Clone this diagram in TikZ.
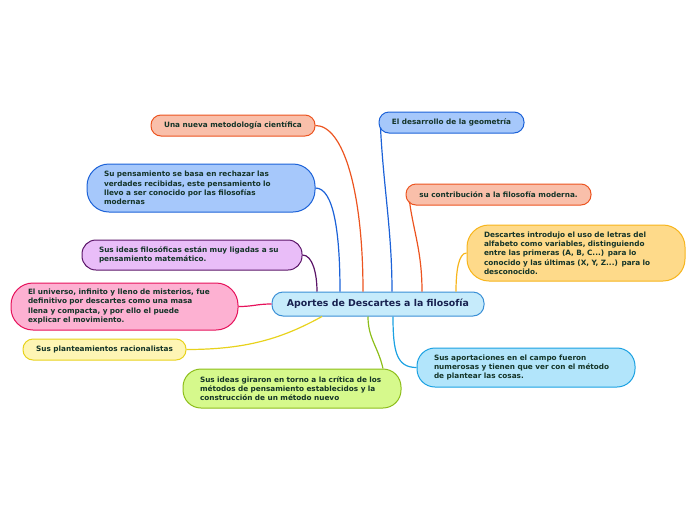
\documentclass[tikz,border=0pt]{standalone}
\usepackage{fontspec}
\setmainfont{DejaVu Sans}
\definecolor{txt}{RGB}{20,52,40}
\definecolor{ctxt}{RGB}{24,34,80}
\definecolor{orF}{RGB}{249,191,170}\definecolor{orD}{RGB}{236,84,32}
\definecolor{blF}{RGB}{166,200,251}\definecolor{blD}{RGB}{28,98,216}
\definecolor{puF}{RGB}{233,189,248}\definecolor{puD}{RGB}{91,21,104}
\definecolor{piF}{RGB}{253,177,210}\definecolor{piD}{RGB}{230,18,91}
\definecolor{yeF}{RGB}{254,245,180}\definecolor{yeD}{RGB}{232,210,28}
\definecolor{grF}{RGB}{214,249,140}\definecolor{grD}{RGB}{141,190,26}
\definecolor{goF}{RGB}{254,218,138}\definecolor{goD}{RGB}{247,181,28}
\definecolor{lbF}{RGB}{178,229,251}\definecolor{lbD}{RGB}{27,161,226}
\definecolor{ceF}{RGB}{198,235,251}\definecolor{ceD}{RGB}{58,143,214}
\tikzset{
  x=1pt,y=-1pt,
  box/.style={draw, line width=1pt, inner ysep=2pt, text=txt,
    font=\fontsize{7.3}{9.3}\selectfont\bfseries},
  single/.style={box, rounded corners=10pt, minimum height=21pt, align=center},
  multi/.style={box, rounded corners=16pt, inner xsep=17pt, align=left},
  conn/.style={line width=1.2pt},
}
\begin{document}
\begin{tikzpicture}
\useasboundingbox (0,0) rectangle (696,520);
\node[draw=ceD, fill=ceF, line width=1pt, rounded corners=11pt, minimum width=212pt, minimum height=24pt, text=ctxt, font=\fontsize{9.4}{11}\selectfont\bfseries] (c) at (378,304) {Aportes de Descartes a la filosofía};

\node[single, draw=orD, fill=orF, minimum width=164pt] (n1) at (233,125.5) {Una nueva metodología científica};
\node[multi, draw=blD, fill=blF, text width=194pt, minimum height=48pt, rounded corners=22pt] (n2) at (201,188) {Su pensamiento se basa en rechazar las\\verdades recibidas, este pensamiento lo\\llevo a ser conocido por las filosofías\\modernas};
\node[multi, draw=puD, fill=puF, text width=186pt, minimum height=30pt, rounded corners=14pt] (n3) at (192,255) {Sus ideas filosóficas están muy ligadas a su\\pensamiento matemático.};
\node[multi, draw=piD, fill=piF, text width=193pt, minimum height=47pt, rounded corners=22pt] (n4) at (124.5,306.5) {El universo, infinito y lleno de misterios, fue\\definitivo por descartes como una masa\\llena y compacta, y por ello el puede\\explicar el movimiento.};
\node[single, draw=yeD, fill=yeF, minimum width=163pt] (n5) at (104.5,349.5) {Sus planteamientos racionalistas};
\node[multi, draw=grD, fill=grF, text width=184pt, minimum height=39pt, rounded corners=18pt] (n6) at (292,388.5) {Sus ideas giraron en torno a la crítica de los\\métodos de pensamiento establecidos y la\\construcción de un método nuevo};
\node[single, draw=blD, fill=blF, minimum width=145pt] (n7) at (451.5,122.5) {El desarrollo de la geometría};
\node[single, draw=orD, fill=orF, minimum width=185pt] (n8) at (498.5,194.5) {su contribución a la filosofía moderna.};
\node[multi, draw=goD, fill=goF, text width=184pt, minimum height=56pt, rounded corners=22pt] (n9) at (576,253) {Descartes introdujo el uso de letras del\\alfabeto como variables, distinguiendo\\entre las primeras (A, B, C...) para lo\\conocido y las últimas (X, Y, Z...) para lo\\desconocido.};
\node[multi, draw=lbD, fill=lbF, text width=184pt, minimum height=39pt, rounded corners=18pt] (n10) at (526,367.5) {Sus aportaciones en el campo fueron\\numerosas y tienen que ver con el método\\de plantear las cosas.};

\draw[conn, orD] (n1.east) .. controls +(28,0) and +(0,-100) .. ([xshift=-15pt]c.north);
\draw[conn, blD] (n2.east) .. controls +(18,0) and +(0,-60) .. ([xshift=-38pt]c.north);
\draw[conn, puD] (n3.east) .. controls +(10,0) and +(0,-18) .. ([xshift=-61pt]c.north);
\draw[conn, piD] (n4.east) .. controls +(15,0) and +(-15,0) .. (c.west);
\draw[conn, yeD] (n5.east) .. controls +(60,0) and +(-40,22) .. ([xshift=-56pt]c.south);
\draw[conn, grD] ([xshift=-10pt]c.south) .. controls +(0,22) and +(-5,-22) .. ([xshift=91pt]n6.north);
\draw[conn, blD] ([xshift=2pt,yshift=-5pt]n7.west) .. controls +(3,60) and +(0,-60) .. ([xshift=14pt]c.north);
\draw[conn, orD] ([xshift=4pt,yshift=-7pt]n8.west) .. controls +(4,30) and +(0,-40) .. ([xshift=44pt]c.north);
\draw[conn, goD] (n9.west) .. controls +(-8,0) and +(0,-20) .. ([xshift=78pt]c.north);
\draw[conn, lbD] ([xshift=15pt]c.south) .. controls +(0,35) and +(-20,0) .. (n10.west);
\end{tikzpicture}
\end{document}
